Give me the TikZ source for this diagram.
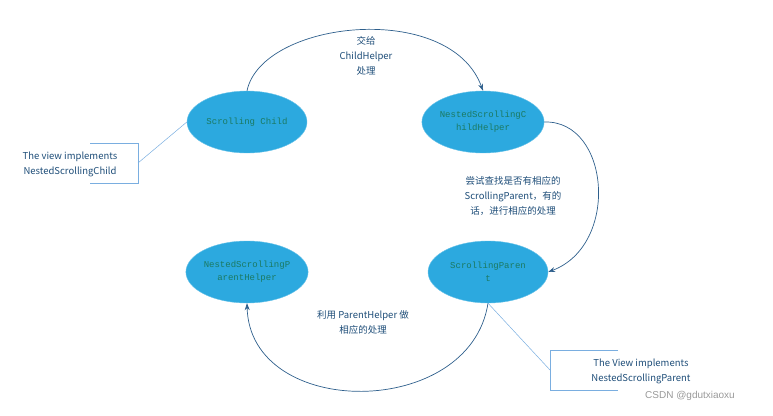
\documentclass[tikz,border=0pt]{standalone}
\usepackage{fontspec}
\setmainfont{Liberation Sans}
\newfontfamily\cjk{Noto Sans CJK SC}
\newfontfamily\monof{Liberation Mono}
\usetikzlibrary{shapes.geometric,arrows.meta}
\definecolor{fillb}{HTML}{2CA9DF}
\definecolor{txtg}{HTML}{1B7A62}
\definecolor{txtb}{HTML}{1F4E79}
\definecolor{arr}{HTML}{2E5F8C}
\definecolor{call}{HTML}{7AAEE0}
\begin{document}
\begin{tikzpicture}[x=1pt,y=-1pt,
  ell/.style={ellipse,fill=fillb,draw=fillb!70!white,minimum width=120pt,minimum height=62pt,inner sep=0pt,font=\monof\fontsize{9}{13}\selectfont,text=txtg,align=center},
  lab/.style={font=\cjk\fontsize{9.5}{15}\selectfont,text=txtb,align=center},
  conn/.style={draw=arr,line width=0.7pt,-{Stealth[length=7pt,width=5pt]}}]
\useasboundingbox (0,0) rectangle (773,415);
\node[ell] (sc) at (247,122) {Scrolling Child};
\node[ell] (nch) at (483,122) {NestedScrollingC\\hildHelper};
\node[ell] (sp) at (488,272) {ScrollingParen\\t};
\node[ell] (nph) at (247,272) {NestedScrollingP\\arentHelper};
\draw[conn] (sc.north) .. controls (262,20) and (450,0) .. (nch.north);
\draw[conn] (nch.east) .. controls (610,120) and (620,245) .. (sp.east);
\draw[conn] (sp.south) .. controls (470,420) and (250,420) .. (nph.south);
\node[lab] (t1) at (366,56) {交给\\ChildHelper\\处理};
\node[lab] (t2) at (513,196) {尝试查找是否有相应的\\ScrollingParent，有的\\话，进行相应的处理};
\node[lab] (t3) at (363,322) {利用 ParentHelper 做\\相应的处理};
\node[lab] (c1) at (70,164) {The view implements\\NestedScrollingChild};
\node[lab] (c2) at (641,371) {The View implements\\NestedScrollingParent};
\draw[call,line width=0.6pt] (90,143) -- (138,143) -- (138,183) -- (90,183);
\draw[call,line width=0.6pt] (618,350) -- (550,350) -- (550,390) -- (618,390);
\coordinate (k1) at (138,163);
\coordinate (k2) at (550,370);
\draw[call,line width=0.5pt] (k1) -- (sc.west);
\draw[call,line width=0.5pt] (k2) -- (sp.south);
\node[font=\fontsize{10}{12}\selectfont,text=gray!80] (wm) at (690,396) {CSDN @gdutxiaoxu};
\end{tikzpicture}
\end{document}
